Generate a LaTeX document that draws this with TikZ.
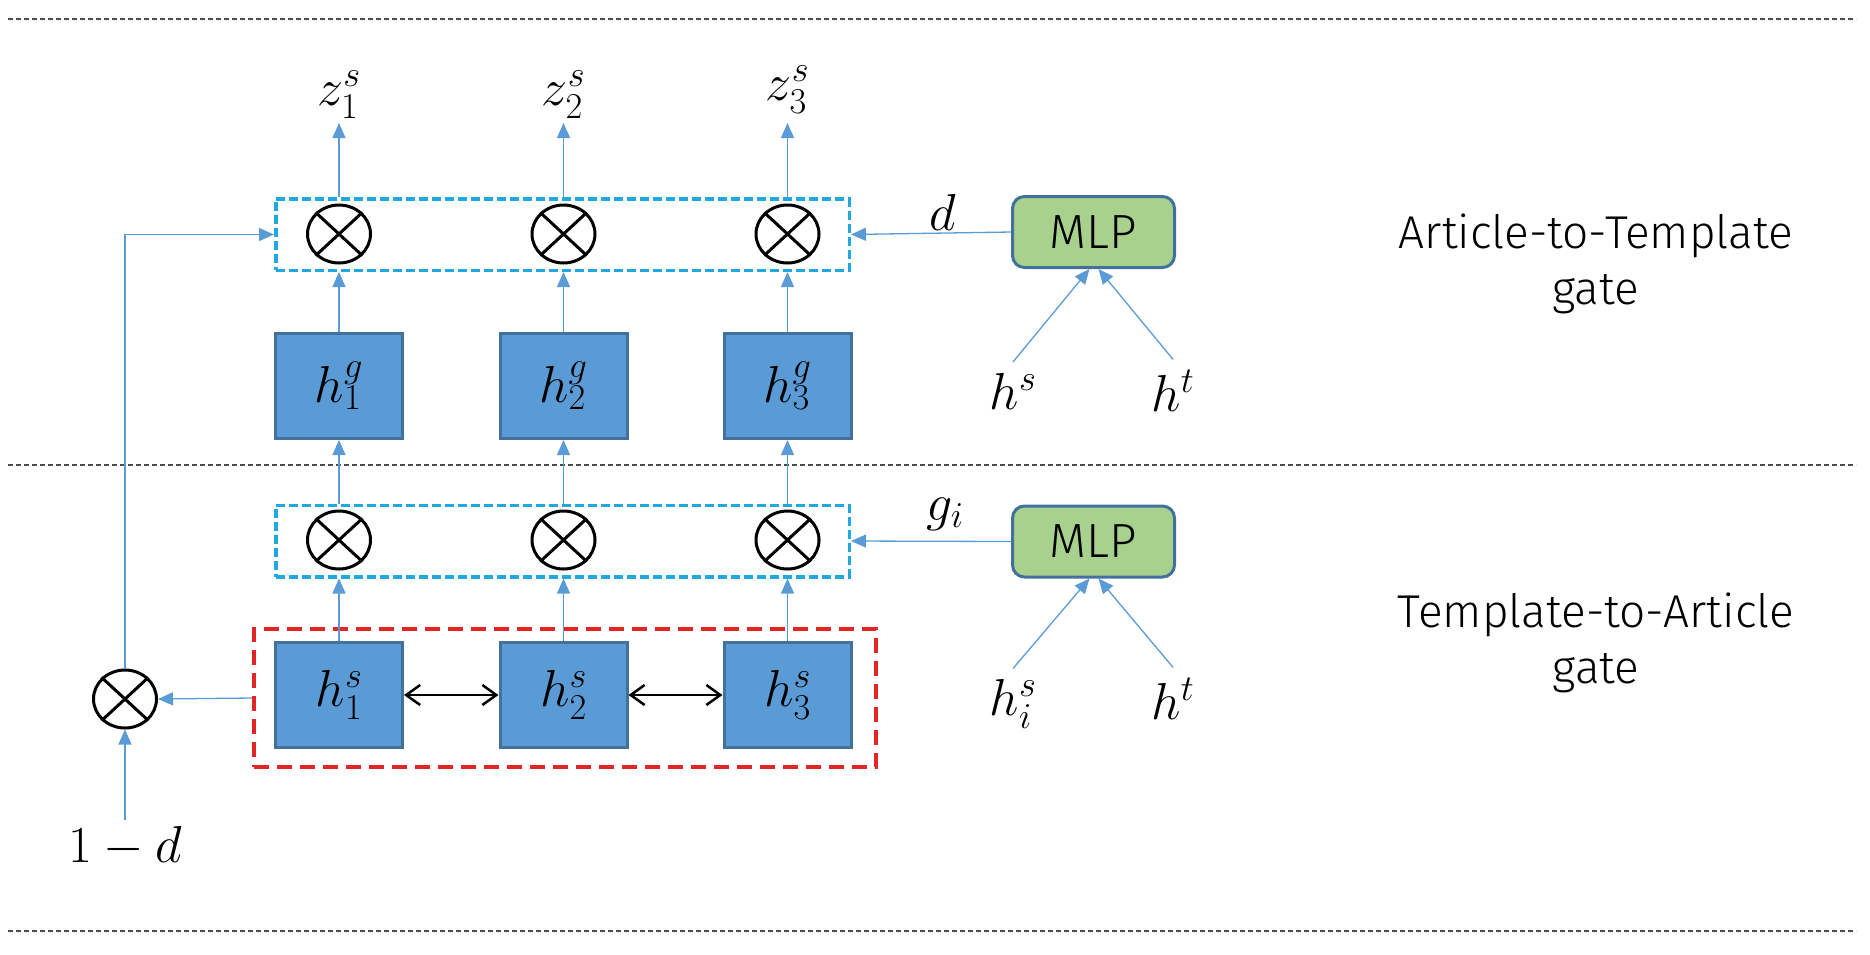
\RequirePackage{fix-cm}
\documentclass[tikz,border=0pt]{standalone}
\usepackage{fontspec}
\newfontfamily\gatefont{Fira Sans Light}
\usetikzlibrary{arrows.meta,shapes.geometric}
\definecolor{lineblue}{HTML}{5B9BD5}
\definecolor{boxblue}{HTML}{5B9BD5}
\definecolor{boxedge}{HTML}{41719C}
\definecolor{mlpgreen}{HTML}{A9D18E}
\definecolor{dashcyan}{HTML}{20A8E0}
\definecolor{dashred}{HTML}{E42525}
\newcommand{\mathsize}{\fontsize{52}{56}\selectfont}
\newcommand{\gatesize}{\gatefont\fontsize{46}{56}\selectfont}
\begin{document}
\begin{tikzpicture}[x=1pt,y=-1pt,
  hbox/.style={rectangle, fill=boxblue, draw=boxedge, line width=3pt, minimum width=127pt, minimum height=105pt, inner sep=0pt, font=\mathsize},
  otim/.style={ellipse, draw=black, line width=3pt, minimum width=63pt, minimum height=58pt, inner sep=0pt},
  xline/.style={draw=black, line width=3pt},
  gatebox/.style={rectangle, draw=dashcyan, line width=3.5pt, dash pattern=on 9pt off 4pt, minimum width=573.5pt, minimum height=71.5pt, inner sep=0pt},
  redbox/.style={rectangle, draw=dashred, line width=4pt, dash pattern=on 15pt off 8pt, minimum width=622pt, minimum height=138pt, inner sep=0pt},
  mlp/.style={rectangle, rounded corners=12pt, fill=mlpgreen, draw=boxedge, line width=3pt, minimum width=162pt, minimum height=71pt, inner sep=0pt, font=\gatefont\fontsize{48}{56}\selectfont},
  conn/.style={draw=lineblue, line width=1.3pt, -{Triangle[length=15pt,width=13pt]}},
  dbl/.style={draw=black, line width=2.5pt, {Straight Barb[length=14pt,width=20pt]}-{Straight Barb[length=14pt,width=20pt]}},
  sepline/.style={draw=black!70, line width=1.2pt, dash pattern=on 5pt off 3pt},
  mlab/.style={font=\mathsize, inner sep=0pt},
  gatetxt/.style={font=\gatesize, align=center, inner sep=0pt}
]
\useasboundingbox (0,0) rectangle (1870,954);

% separators
\coordinate (s1a) at (8,19);   \coordinate (s1b) at (1856,19);
\coordinate (s2a) at (8,465);  \coordinate (s2b) at (1856,465);
\coordinate (s3a) at (8,931);  \coordinate (s3b) at (1856,931);
\draw[sepline] (s1a) -- (s1b);
\draw[sepline] (s2a) -- (s2b);
\draw[sepline] (s3a) -- (s3b);

% gate boxes
\node[gatebox] (tb) at (562.5,234.5) {};
\node[gatebox] (lb) at (562.5,541) {};
\node[redbox] (rb) at (565,698) {};

% top otimes
\foreach \n/\x in {c1/339, c2/563.5, c3/787.5}{
  \node[otim] (\n) at (\x,234) {};
  \draw[xline] (\n.north east) -- (\n.south west) (\n.north west) -- (\n.south east);
}
% lower otimes
\foreach \n/\x in {d1/339, d2/563.5, d3/787.5}{
  \node[otim] (\n) at (\x,540) {};
  \draw[xline] (\n.north east) -- (\n.south west) (\n.north west) -- (\n.south east);
}
% left otimes
\node[otim] (ox) at (125,699) {};
\draw[xline] (ox.north east) -- (ox.south west) (ox.north west) -- (ox.south east);

% h^g boxes
\node[hbox] (hg1) at (339,386) {$h_1^g$};
\node[hbox] (hg2) at (563.5,386) {$h_2^g$};
\node[hbox] (hg3) at (787.5,386) {$h_3^g$};
% h^s boxes
\node[hbox] (hs1) at (339,695) {$h_1^s$};
\node[hbox] (hs2) at (563.5,695) {$h_2^s$};
\node[hbox] (hs3) at (787.5,695) {$h_3^s$};

% z labels
\node[mlab, outer sep=5pt, anchor=south] (z1) at (339,123) {$z_1^s$};
\node[mlab, outer sep=5pt, anchor=south] (z2) at (563.5,123) {$z_2^s$};
\node[mlab, outer sep=10pt, anchor=south] (z3) at (787.5,123) {$z_3^s$};

% MLP boxes
\node[mlp] (m1) at (1093.5,232) {MLP};
\node[mlp] (m2) at (1093.5,541.5) {MLP};

% labels
\node[mlab] (dl) at (943,212) {$d$};
\node[mlab] (gl) at (945,514) {$g_i$};
\node[mlab, outer sep=11pt] (hsa) at (1013,391) {$h^s$};
\node[mlab, outer sep=11pt] (hta) at (1173,391) {$h^t$};
\node[mlab, outer sep=11pt] (hsb) at (1013,704) {$h_i^s$};
\node[mlab, outer sep=11pt] (htb) at (1173,699) {$h^t$};
\node[mlab, outer sep=6pt, anchor=north] (om) at (125,820) {$1-d$};

% gate texts
\node[gatetxt] (g1) at (1596,264) {Article-to-Template\\gate};
\node[gatetxt] (g2) at (1596,643) {Template-to-Article\\gate};

% connectors
\foreach \i in {1,2,3}{
  \draw[conn] (tb.north -| hg\i) -- (z\i.south);
  \draw[conn] (hg\i.north) -- (hg\i.north |- tb.south);
  \draw[conn] (lb.north -| hg\i) -- (hg\i.south);
  \draw[conn] (hs\i.north) -- (hs\i.north |- lb.south);
}
\draw[conn] (m1.west) -- (tb.east);
\draw[conn] (m2.west) -- (lb.east);
\draw[conn] (hsa.north) -- ([xshift=-4pt]m1.south);
\draw[conn] (hta.north) -- ([xshift=5pt]m1.south);
\draw[conn] (hsb.north) -- ([xshift=-4pt]m2.south);
\draw[conn] (htb.north) -- ([xshift=5pt]m2.south);
\draw[dbl] (hs1.east) -- (hs2.west);
\draw[dbl] (hs2.east) -- (hs3.west);
\draw[conn] (rb.west) -- (ox.east);
\draw[conn] (om.north) -- (ox.south);
\draw[conn] (ox.north) |- (tb.west);
\end{tikzpicture}
\end{document}
